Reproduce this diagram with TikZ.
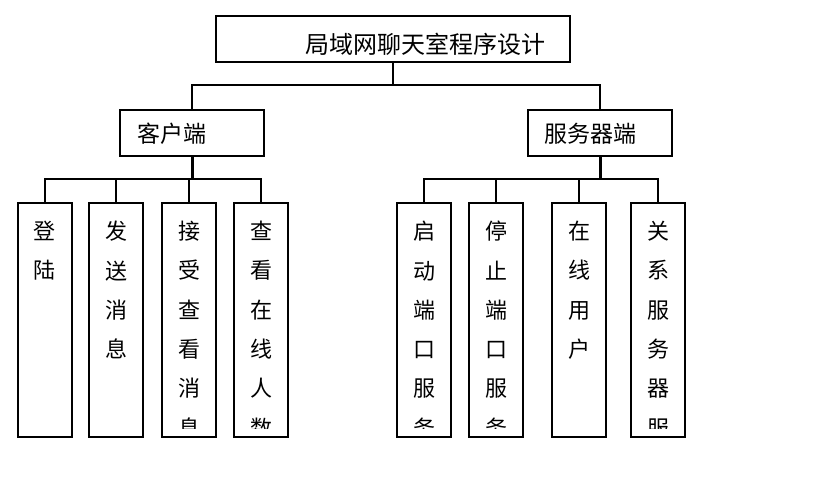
\documentclass[tikz,border=0pt]{standalone}
\usepackage{fontspec}
\setmainfont{Noto Sans CJK SC}
\usetikzlibrary{positioning, calc}
\tikzset{
  box/.style={draw=black, line width=2pt, minimum height=46pt, inner sep=0pt},
  leaf/.style={draw=black, line width=2pt, minimum width=54pt, minimum height=234pt, inner sep=0pt},
  link/.style={draw=black, line width=2pt},
  trunk/.style={draw=black, line width=3pt},
  lbl/.style={font=\fontsize{23}{28}\selectfont, inner sep=0pt, anchor=west},
  col/.style={font=\fontsize{22}{39.3}\selectfont, inner sep=0pt, anchor=north, align=center}
}

\begin{document}
\begin{tikzpicture}[x=1pt, y=-1pt]
  \useasboundingbox (0,0) rectangle (828,484);
  % top level
  \node[box, minimum width=354pt] (root) at (393,39) {};
  \node[lbl, font=\fontsize{24}{28}\selectfont] (roottxt) at (305,44) {局域网聊天室程序设计};
  \node[box, minimum width=144pt] (client) at (192,133) {};
  \node[lbl] (clienttxt) at (137,134) {客户端};
  \node[box, minimum width=144pt] (server) at (600,133) {};
  \node[lbl] (servertxt) at (544,134) {服务器端};
  \coordinate (topbus) at (393,85);
  \draw[link] (root.south) -- (topbus);
  \draw[link] (client.north) |- (topbus) -| (server.north);
  % client side
  \coordinate (clientbus) at (192,179);
  \draw[trunk] (client.south) -- (clientbus);
  \foreach \nm/\xc/\txt in {c1/45/登\\陆, c2/116/发\\送\\消\\息, c3/189/接\\受\\查\\看\\消\\息, c4/261/查\\看\\在\\线\\人\\数} {
    \node[leaf] (\nm) at (\xc,320) {};
    \draw[link] (\nm.north) |- (clientbus);
    \begin{scope}
      \clip (\nm.north west) rectangle ([yshift=10pt]\nm.south east);
      \node[col] (\nm txt) at (\xc,221) {\txt};
    \end{scope}
  }
  % server side
  \coordinate (serverbus) at (600,179);
  \draw[trunk] (server.south) -- (serverbus);
  \foreach \nm/\xc/\txt in {s1/424/启\\动\\端\\口\\服\\务, s2/496/停\\止\\端\\口\\服\\务, s3/579/在\\线\\用\\户, s4/658/关\\系\\服\\务\\器\\服} {
    \node[leaf] (\nm) at (\xc,320) {};
    \draw[link] (\nm.north) |- (serverbus);
    \begin{scope}
      \clip (\nm.north west) rectangle ([yshift=10pt]\nm.south east);
      \node[col] (\nm txt) at (\xc,221) {\txt};
    \end{scope}
  }
\end{tikzpicture}
\end{document}
